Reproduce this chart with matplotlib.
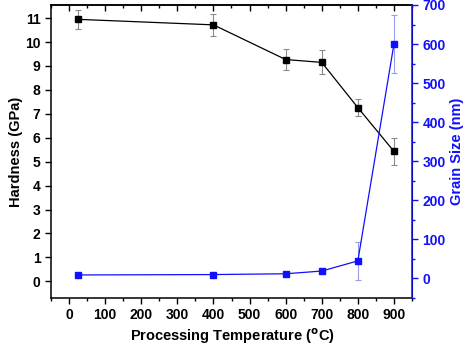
import matplotlib
matplotlib.use("Agg")
import matplotlib.pyplot as plt
from matplotlib.ticker import MultipleLocator

plt.rcParams['font.family'] = ['Liberation Sans', 'DejaVu Sans']
plt.rcParams['font.weight'] = 'bold'

temperature = [25, 400, 600, 700, 800, 900]
hardness = [10.95, 10.72, 9.27, 9.15, 7.26, 5.43]
hardness_err = [0.40, 0.45, 0.45, 0.50, 0.35, 0.55]
grain_size = [9, 10, 12, 19, 45, 600]
grain_err = [0, 0, 0, 0, 49, 75]

BLUE = '#1010ff'

fig = plt.figure(figsize=(4.74, 3.53), dpi=100)
ax = fig.add_axes([51/474, 1-298/353, (412-51)/474, (298-5)/353])
ax2 = ax.twinx()

ax.errorbar(temperature, hardness, yerr=hardness_err, color='black', marker='s',
            ms=4.2, lw=0.9, ecolor='#8a8a8a', elinewidth=0.8, capsize=2.5, capthick=0.8, zorder=3)
ax2.errorbar(temperature, grain_size, yerr=grain_err, color=BLUE, marker='s',
             ms=4.2, lw=0.9, ecolor='#9a9aee', elinewidth=0.8, capsize=2.5, capthick=0.8, zorder=3)

ax.set_xlim(-50, 950)
ax.set_ylim(-0.7, 11.55)
ax2.set_ylim(-50, 700)

ax.xaxis.set_major_locator(MultipleLocator(100))
ax.xaxis.set_minor_locator(MultipleLocator(50))
ax.yaxis.set_major_locator(MultipleLocator(1))
ax2.yaxis.set_major_locator(MultipleLocator(100))
ax2.yaxis.set_minor_locator(MultipleLocator(50))

ax.tick_params(axis='x', which='both', top=False, direction='out', labelsize=10, width=1)
ax.tick_params(axis='x', which='major', length=4)
ax.tick_params(axis='x', which='minor', length=2.5)
ax.tick_params(axis='y', which='major', length=4, width=1, labelsize=10, right=False)

ax2.tick_params(axis='y', which='both', colors=BLUE, labelsize=10, width=1)
ax2.tick_params(axis='y', which='major', length=4)
ax2.tick_params(axis='y', which='minor', length=2.5)

# top ticks inward, no labels
sec = ax.secondary_xaxis('top')
sec.xaxis.set_major_locator(MultipleLocator(100))
sec.xaxis.set_minor_locator(MultipleLocator(50))
sec.tick_params(axis='x', which='both', direction='in', labeltop=False, width=1)
sec.tick_params(axis='x', which='major', length=4)
sec.tick_params(axis='x', which='minor', length=2.5)
sec.spines['top'].set_linewidth(1.1)

for s in ['left', 'bottom', 'top']:
    ax.spines[s].set_linewidth(1.1)
ax2.spines['right'].set_color(BLUE)
ax2.spines['right'].set_linewidth(1.1)
for s in ['left', 'bottom', 'top']:
    ax2.spines[s].set_visible(False)

ax.set_xlabel('Processing Temperature ($\\mathbf{^{o}}$C)', fontsize=10.5, fontweight='bold')
ax.set_ylabel('Hardness (GPa)', fontsize=10.5, fontweight='bold')
ax2.set_ylabel('Grain Size (nm)', fontsize=10.5, fontweight='bold', color=BLUE)
ax.xaxis.set_label_coords((232 - 51) / (412 - 51), -(336 - 298) / (298 - 5), transform=ax.transAxes)
ax.yaxis.set_label_coords(-(51 - 16) / (412 - 51), 0.5)
ax2.yaxis.set_label_coords((457 - 51) / (412 - 51), 0.5)
ax.xaxis.label.set_va('center')
ax.yaxis.label.set_va('center')
ax2.yaxis.label.set_va('center')

fig.savefig('out.png', dpi=100)
